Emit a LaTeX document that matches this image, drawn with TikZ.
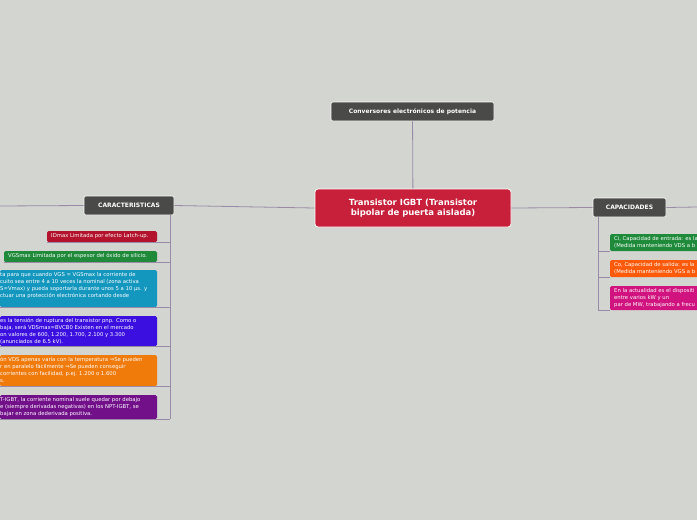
\documentclass[tikz,border=0pt]{standalone}
\usepackage{fontspec}
\setmainfont{DejaVu Sans}
\definecolor{bg}{HTML}{D3D5D1}
\definecolor{ln}{HTML}{9A8AA8}
\definecolor{cR}{HTML}{B3132C}
\definecolor{cG}{HTML}{1E8A3A}
\definecolor{cC}{HTML}{1497BE}
\definecolor{cB}{HTML}{3A0FE0}
\definecolor{cO}{HTML}{F07A0A}
\definecolor{cP}{HTML}{72108A}
\definecolor{cOr}{HTML}{FF5A0A}
\definecolor{cM}{HTML}{D0137E}
\definecolor{cc}{HTML}{C8203A}
\definecolor{hdc}{HTML}{4A4A48}
\begin{document}
\begin{tikzpicture}[x=1pt,y=-1pt,
  lnk/.style={draw=ln,line width=0.8pt},
  hd/.style={draw=white,line width=0.6pt,rounded corners=2pt,fill=hdc,text=white,font=\bfseries\fontsize{6}{7}\selectfont,inner sep=0pt},
  bx/.style={rounded corners=1.5pt},
  tx/.style={anchor=north west,align=left,text=white,font=\fontsize{5.3}{6.8}\selectfont,inner sep=0pt}]
\useasboundingbox (0,0) rectangle (697,520);
\fill[bg] (0,0) rectangle (697,520);
\clip (0,0) rectangle (697,520);
\coordinate (lft) at (0,206); \coordinate (rgt) at (697,207);
\node[hd,minimum width=163,minimum height=19] (top) at (412.5,111.5) {Conversores electrónicos de potencia};
\node[draw=white,line width=0.8pt,rounded corners=3pt,fill=cc,text=white,font=\bfseries\fontsize{8.5}{10}\selectfont,align=center,minimum width=196,minimum height=38,inner sep=0pt] (c) at (413,208) {Transistor IGBT (Transistor\\ bipolar de puerta aislada)};
\node[hd,minimum width=90,minimum height=19] (car) at (129,205.5) {CARACTERISTICAS};
\node[hd,minimum width=73,minimum height=19] (cap) at (629.5,207.5) {CAPACIDADES};
\draw[lnk] (top) -- (c);
\draw[lnk] (car.east) -- (c.west);
\draw[lnk] (c.east) -- (cap.west);
\draw[lnk] (lft) -- (car.west);
\draw[lnk] (cap.east) -- (rgt);
\coordinate (lv) at (170,215);
\draw[lnk] (lv) -- (170,419);
\foreach \x/\a/\b/\c in {47/231/242/cR, 4/251/262/cG, 0/270/307/cC, 0/316/346/cB, 0/355/386/cO, 0/395/419/cP}{
  \fill[bx,\c] (\x,\a) rectangle (157,\b);
  \draw[lnk] (\x,\b) -- (170,\b);
}
\node[tx] at (51,233.5) {IDmax Limitada por efecto Latch-up.};
\node[tx] at (8,253.5) {VGSmax Limitada por el espesor del óxido de silicio.};
\node[tx] at (0,272.5) {ta para que cuando VGS = VGSmax la corriente de\\cuito sea entre 4 a 10 veces la nominal (zona activa\\S=Vmax) y pueda soportarla durante unos 5 a 10 μs. y\\ctuar una protección electrónica cortando desde};
\node[tx] at (0,318.5) {es la tensión de ruptura del transistor pnp. Como o\\baja, será VDSmax=BVCB0 Existen en el mercado\\on valores de 600, 1.200, 1.700, 2.100 y 3.300\\(anunciados de 6.5 kV).};
\node[tx] at (0,357.5) {ón VDS apenas varía con la temperatura ⇒Se pueden\\r en paralelo fácilmente ⇒Se pueden conseguir\\ corrientes con facilidad, p.ej. 1.200 o 1.600\\s.};
\node[tx] at (0,397.5) {T-IGBT, la corriente nominal suele quedar por debajo\\e (siempre derivadas negativas) en los NPT-IGBT, se\\bajar en zona dederivada positiva.};
\coordinate (rv) at (598,217);
\draw[lnk] (rv) -- (598,310);
\foreach \a/\b/\c in {234/251/cG, 260/277/cOr, 286/310/cM}{
  \fill[bx,\c] (610,\a) rectangle (700,\b);
  \draw[lnk] (598,\b) -- (610,\b);
}
\node[tx] at (614,236.5) {Ci, Capacidad de entrada: es la\\(Medida manteniendo VDS a b};
\node[tx] at (614,262.5) {Co, Capacidad de salida: es la\\(Medida manteniendo VGS a b};
\node[tx] at (614,288.5) {En la actualidad es el dispositi\\entre varios kW y un\\par de MW, trabajando a frecu};
\end{tikzpicture}
\end{document}
